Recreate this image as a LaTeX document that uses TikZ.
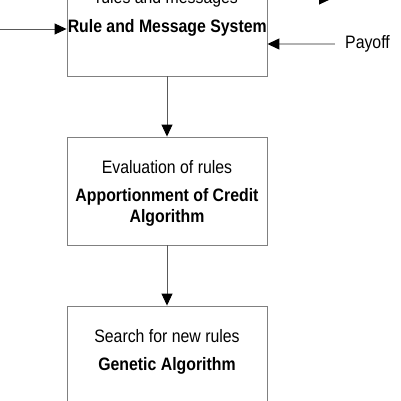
\documentclass[tikz,border=0pt]{standalone}
\usepackage{fontspec}
\setmainfont{Liberation Sans}[FakeStretch=0.88]
\usetikzlibrary{arrows.meta,calc}

\begin{document}
\begin{tikzpicture}[
        x=1pt, y=-1pt,
        font=\fontsize{18}{21}\selectfont,
        % Bloecke und Pfeile
        box/.style={draw=black!50, line width=0.9pt, rectangle, minimum width=200pt, minimum height=108pt, inner sep=0pt},
        lbl/.style={inner sep=0pt, anchor=base},
        flow/.style={draw=black!65, line width=0.9pt, -{Triangle[length=12pt, width=11pt, black]}},
        feed/.style={draw=black!30, line width=1.3pt, -{Triangle[length=12pt, width=11pt, black]}}
    ]
    \useasboundingbox (0,0) rectangle (401,401);
    \clip (0,0) rectangle (401,401);

    % ==========================================
    % 1. BLOECKE
    % ==========================================
    \node[box] (rules)  at (167,22)  {};
    \node[box] (credit) at (167,191) {};
    \node[box] (search) at (167,360) {};

    % Texte in den Bloecken
    \node[lbl] (rulesSub) at ($(rules.north)+(0,36)$) {rules and messages};
    \begin{scope}
        \clip (rules.north west) rectangle (rules.south east);
        \node[lbl, anchor=base west] (rulesName) at ($(rules.north west)+(1,65)$) {\textbf{Rule and Message System}};
    \end{scope}

    \node[lbl] (creditSub)  at ($(credit.north)+(0,37)$) {Evaluation of rules};
    \node[lbl] (creditName) at ($(credit.north)+(0,65)$) {\textbf{Apportionment of Credit}};
    \node[lbl] (creditAlg)  at ($(credit.north)+(0,86)$) {\textbf{Algorithm}};

    \node[lbl] (searchSub)  at ($(search.north)+(0,37)$) {Search for new rules};
    \node[lbl] (searchName) at ($(search.north)+(0,65)$) {\textbf{Genetic Algorithm}};

    % Payoff
    \node[lbl, anchor=west] (payoff) at (345,44) {Payoff};

    % ==========================================
    % 2. VERBINDUNGEN
    % ==========================================
    \coordinate (inL)   at (0,29);
    \coordinate (payIn) at (335,44);
    \coordinate (outA)  at (300,-1);
    \coordinate (outB)  at (331,-1);

    \draw[flow] (inL) -- (rules.west |- inL);
    \draw[feed] (payIn) -- (rules.east |- payIn);
    \draw[flow] (outA) -- (outB);

    \draw[flow] (rules.south)  -- (credit.north);
    \draw[flow] (credit.south) -- (search.north);

\end{tikzpicture}
\end{document}
